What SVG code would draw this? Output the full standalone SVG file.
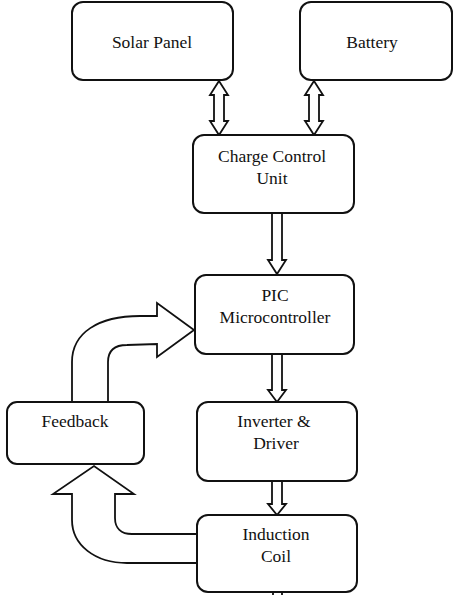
<svg xmlns="http://www.w3.org/2000/svg" width="457" height="595" viewBox="0 0 457 595">
<style>
.box{fill:#fff;stroke:#111;stroke-width:2}
.ar{fill:#fff;stroke:#111;stroke-width:1.8;stroke-linejoin:miter}
.fl{fill:none;stroke:#111;stroke-width:1.8}
text{font-family:"Liberation Serif","Times New Roman",serif;font-size:17.5px;fill:#111;text-anchor:middle}
</style>
<rect width="457" height="595" fill="#fff"/>
<g id="connectors">
<path class="ar" d="M219,81 L228,95 L224,95 L224,121 L228,121 L219,135 L210,121 L214,121 L214,95 L210,95 Z"/>
<path class="ar" d="M314,81 L323,95 L319,95 L319,121 L323,121 L314,135 L305,121 L309,121 L309,95 L305,95 Z"/>
<path class="ar" d="M272,213 L282,213 L282,260 L286,260 L277,274 L268,260 L272,260 Z"/>
<path class="ar" d="M272,354 L282,354 L282,390 L286,390 L277,402 L268,390 L272,390 Z"/>
<path class="ar" d="M272,481 L282,481 L282,504 L286,504 L277,515 L268,504 L272,504 Z"/>
<path class="fl" d="M273,592 L273,595 M282,592 L282,595"/>
<path class="ar" d="M72,402 L72,362 C72,333 98,316 140,316 L157,316 L157,303 L194,330 L157,357 L157,344 L127,345 C114,345 108,351 108,362 L108,402"/>
<path class="ar" d="M197,563 L127,563 C95,563 72,545 72,520 L72,494 L53,494 L94,466 L134,494 L115,494 L115,518 C115,528 121,534 132,534 L197,534"/>
</g>
<g id="solar"><rect class="box" x="72" y="2" width="161" height="78" rx="11"/><text x="152" y="48">Solar Panel</text></g>
<g id="battery"><rect class="box" x="300" y="2" width="152" height="78" rx="11"/><text x="372" y="48">Battery</text></g>
<g id="charge"><rect class="box" x="193" y="135" width="161" height="78" rx="11"/><text x="272" y="162">Charge Control</text><text x="272" y="184">Unit</text></g>
<g id="pic"><rect class="box" x="195" y="275" width="159" height="79" rx="11"/><text x="275" y="301">PIC</text><text x="275" y="323">Microcontroller</text></g>
<g id="feedback"><rect class="box" x="7" y="402" width="137" height="62" rx="10"/><text x="75" y="427">Feedback</text></g>
<g id="inverter"><rect class="box" x="197" y="402" width="160" height="79" rx="11"/><text x="274" y="427">Inverter &amp;</text><text x="276" y="449">Driver</text></g>
<g id="induction"><rect class="box" x="197" y="515" width="160" height="77" rx="11"/><text x="276" y="540">Induction</text><text x="276" y="562">Coil</text></g>
</svg>
